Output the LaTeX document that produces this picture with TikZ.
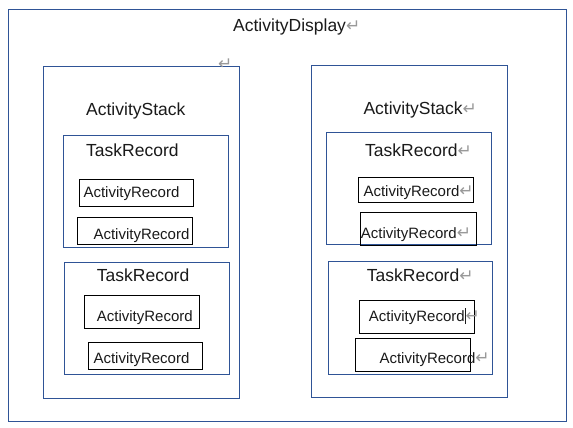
\documentclass[tikz,border=0pt]{standalone}
\usepackage{fontspec}
\setmainfont{Liberation Sans}
\newfontfamily\dejavu{DejaVu Sans}
\definecolor{boxblue}{HTML}{2F5496}
\definecolor{txt}{HTML}{1A1A1A}
\newcommand{\retmark}{{\color{black!40}\dejavu\fontsize{17}{17}\selectfont ↵}}
\newcommand{\caretbar}{\rule[-2.5pt]{0.9pt}{16pt}}
\tikzset{
  bluebox/.style={draw=boxblue, line width=0.9pt, inner sep=0pt, anchor=north west},
  blackbox/.style={draw=black, line width=0.9pt, inner sep=0pt, anchor=north west},
  bigtxt/.style={anchor=base west, inner sep=0pt, text=txt, font=\fontsize{17.5}{20}\selectfont},
  smalltxt/.style={anchor=base west, inner sep=0pt, text=txt, font=\fontsize{15}{18}\selectfont},
}
\begin{document}
\begin{tikzpicture}[x=1pt,y=-1pt]
\useasboundingbox[fill=white] (0,0) rectangle (573,428);
% outer display
\node[bluebox, minimum width=558pt, minimum height=412pt] (display) at (8.3,9.3) {};
\node[bigtxt] (displaytxt) at (233,31.7) {ActivityDisplay\retmark};
% left stack
\node[bluebox, minimum width=196pt, minimum height=332pt] (lstack) at (43.3,66.3) {};
\node[anchor=base west, inner sep=0pt] (lret) at (218,70) {\retmark};
\node[bigtxt] (lstacktxt) at (86,115) {ActivityStack};
\node[bluebox, minimum width=164.4pt, minimum height=112pt] (ltr1) at (63.3,135.3) {};
\node[bigtxt] (ltr1txt) at (86,156.7) {TaskRecord};
\node[blackbox, minimum width=114.3pt, minimum height=27pt] (lar1) at (79,179.3) {};
\node[smalltxt] (lar1txt) at (83.3,197.7) {ActivityRecord};
\node[blackbox, minimum width=114.4pt, minimum height=27pt] (lar2) at (77.3,217.3) {};
\node[smalltxt] (lar2txt) at (93.3,239) {ActivityRecord};
\node[bluebox, minimum width=164.4pt, minimum height=112pt] (ltr2) at (64.3,262.3) {};
\node[bigtxt] (ltr2txt) at (96.7,281.7) {TaskRecord};
\node[blackbox, minimum width=115pt, minimum height=33pt] (lar3) at (84.3,295.3) {};
\node[smalltxt] (lar3txt) at (96.7,321.7) {ActivityRecord};
\node[blackbox, minimum width=114pt, minimum height=27pt] (lar4) at (88.3,342.3) {};
\node[smalltxt] (lar4txt) at (93.3,363.3) {ActivityRecord};
% right stack
\node[bluebox, minimum width=196pt, minimum height=332pt] (rstack) at (310.7,65.3) {};
\node[bigtxt] (rstacktxt) at (363.3,114.3) {ActivityStack\retmark};
\node[bluebox, minimum width=164.7pt, minimum height=112pt] (rtr1) at (326,132.3) {};
\node[bigtxt] (rtr1txt) at (365,156.7) {TaskRecord\retmark};
\node[blackbox, minimum width=114.4pt, minimum height=25pt] (rar1) at (358.3,177.3) {};
\node[smalltxt] (rar1txt) at (363.3,196.7) {ActivityRecord\retmark};
\node[blackbox, minimum width=115.7pt, minimum height=33.3pt] (rar2) at (360,212) {};
\node[smalltxt] (rar2txt) at (360.7,238.3) {ActivityRecord\retmark};
\node[bluebox, minimum width=164pt, minimum height=112.4pt] (rtr2) at (328.3,261.3) {};
\node[bigtxt] (rtr2txt) at (366.7,281.7) {TaskRecord\retmark};
\node[blackbox, minimum width=115pt, minimum height=33pt] (rar3) at (359.3,300.3) {};
\node[smalltxt] (rar3txt) at (368.7,321.7) {ActivityRecord\caretbar\retmark};
\node[blackbox, minimum width=115pt, minimum height=32.7pt] (rar4) at (355.3,338.3) {};
\node[smalltxt] (rar4txt) at (379.3,363.3) {ActivityRecord\retmark};
\end{tikzpicture}
\end{document}
